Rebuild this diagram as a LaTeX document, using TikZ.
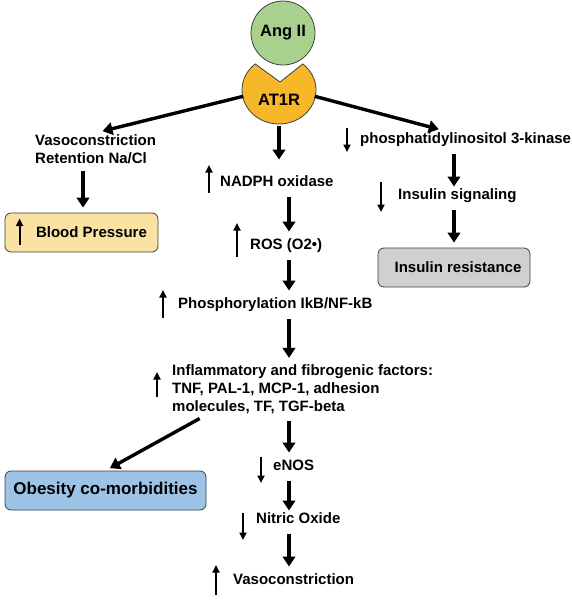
\documentclass[tikz,border=0pt]{standalone}
\usepackage{fontspec}
\setmainfont{Liberation Sans}
\usepackage{tikz}
\usetikzlibrary{arrows.meta,calc}
\definecolor{angfill}{HTML}{A9D18E}
\definecolor{atfill}{HTML}{F6B828}
\definecolor{bpfill}{HTML}{F9E2A2}
\definecolor{obfill}{HTML}{9DC3E6}
\definecolor{irfill}{HTML}{D0D0D0}
\tikzset{every node/.style={font=\fontsize{15}{17.8}\selectfont\bfseries},
lbl/.style={anchor=west,inner sep=2pt,text height=11pt,text depth=3.5pt},
mlbl/.style={anchor=west,inner sep=2pt,align=left},
bigarrow/.style={line width=3.4pt,-{Triangle[length=10pt,width=12.5pt]},shorten <=5pt,shorten >=5pt},
upmark/.style={line width=1.8pt,-{Triangle[length=7.5pt,width=7pt]}},
effbox/.style={draw=black!75,line width=0.8pt,rounded corners=6pt,minimum height=39pt,inner sep=0pt}}

\begin{document}
\begin{tikzpicture}[x=1pt,y=1pt]
\useasboundingbox (0,0) rectangle (572,-600);
\filldraw[fill=atfill,draw=black!75,line width=0.8pt] (279,-90) ++(50:37pt and 34pt) arc[start angle=50,end angle=-230,x radius=37pt,y radius=34pt] -- (280,-82) -- cycle;
\node[circle,minimum size=72pt,inner sep=0pt] (at1r) at (279,-90) {};
\node[font=\fontsize{16.5}{19}\selectfont\bfseries] (at1rtxt) at (279,-100) {AT1R};
\node[circle,fill=angfill,draw=black!75,line width=0.8pt,minimum size=64pt,inner sep=0pt,font=\fontsize{16.5}{19}\selectfont\bfseries] (ang) at (283,-33) {Ang II};
\coordinate (leftcol) at (83,0);
\coordinate (midcol) at (289,0);
\coordinate (rightcol) at (454,0);

\node[mlbl] (vaso) at (33,-149) {Vasoconstriction\\Retention Na/Cl};
\node[effbox,fill=bpfill,minimum width=153pt] (bp) at (81.5,-232.5) {\hspace*{20pt}Blood Pressure};
\node[lbl] (nadph) at (218,-183) {NADPH oxidase};
\node[lbl] (ros) at (248,-246) {ROS (O2•)};
\node[lbl] (phos) at (176,-305) {Phosphorylation IkB/NF-kB};
\node[mlbl] (infl) at (170,-389.5) {Inflammatory and fibrogenic factors:\\TNF, PAL-1, MCP-1, adhesion\\molecules, TF, TGF-beta};
\node[lbl] (enos) at (271,-467) {eNOS};
\node[lbl] (no) at (254,-520) {Nitric Oxide};
\node[lbl] (vasob) at (231,-581) {Vasoconstriction};
\node[lbl] (pi3k) at (358,-140) {phosphatidylinositol 3-kinase};
\node[lbl] (insig) at (396,-196) {Insulin signaling};
\node[effbox,fill=irfill,minimum width=152pt] (insres) at (454,-267.5) {\hspace*{8pt}Insulin resistance};
\node[effbox,fill=obfill,minimum width=201pt,font=\fontsize{17}{20}\selectfont\bfseries] (obes) at (105.5,-490.5) {Obesity co-morbidities};

\draw[bigarrow,shorten <=0pt] (at1r.190) -- ([xshift=2pt]vaso.north);
\draw[bigarrow,shorten <=0pt,shorten >=14pt] (at1r.south) -- (at1r.south |- nadph.north);
\draw[bigarrow,shorten <=0pt] (at1r.-10) -- ([xshift=-22pt]pi3k.north);
\draw[bigarrow] (vaso.south -| leftcol) -- (bp.north -| leftcol);
\draw[bigarrow] (nadph.south -| midcol) -- (ros.north -| midcol);
\draw[bigarrow] (ros.south -| midcol) -- (phos.north -| midcol);
\draw[bigarrow] (phos.south -| midcol) -- (infl.north -| midcol);
\draw[bigarrow] (infl.south -| midcol) -- (enos.north -| midcol);
\draw[bigarrow,shorten >=0pt] (enos.south -| midcol) -- (no.north -| midcol);
\draw[bigarrow] (no.south -| midcol) -- (vasob.north -| midcol);
\draw[bigarrow] ([xshift=34pt]infl.south west) -- (obes.north);
\draw[bigarrow,shorten >=0pt] (pi3k.south -| rightcol) -- (insig.north -| rightcol);
\draw[bigarrow] (insig.south -| rightcol) -- (insres.north -| rightcol);

\draw[upmark] ([xshift=15pt,yshift=-12pt]bp.west) -- ++(0,26);
\draw[upmark] ([xshift=-9pt,yshift=-10pt]nadph.west) -- ++(0,28);
\draw[upmark] ([xshift=-11pt,yshift=-11pt]ros.west) -- ++(0,34);
\draw[upmark] ([xshift=-13pt,yshift=-13pt]phos.west) -- ++(0,28);
\draw[upmark] ([xshift=-13pt,yshift=-7.5pt]infl.west) -- ++(0,25);
\draw[upmark] ([xshift=-11pt,yshift=12pt]pi3k.west) -- ++(0,-24);
\draw[upmark] ([xshift=-15pt,yshift=14pt]insig.west) -- ++(0,-30);
\draw[upmark] ([xshift=-10pt,yshift=10pt]enos.west) -- ++(0,-26);
\draw[upmark] ([xshift=-11pt,yshift=7pt]no.west) -- ++(0,-27);
\draw[upmark] ([xshift=-15pt,yshift=-14pt]vasob.west) -- ++(0,30);
\end{tikzpicture}
\end{document}
